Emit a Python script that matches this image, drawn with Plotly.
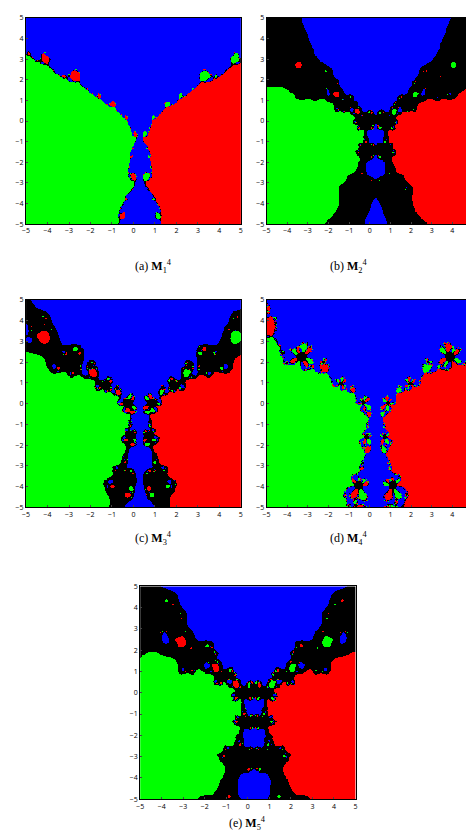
import numpy as np
import plotly.graph_objects as go

# roots of the test polynomial (green, blue, red basins)
roots = [complex(-1.0, -0.4), complex(0.3, 0.95), complex(1.6, -0.4)]
basin_colors = ["#000000", "#00ff00", "#0000ff", "#ff0000"]
captions = ["(a) <b>M</b><sub>1</sub><sup>4</sup>", "(b) <b>M</b><sub>2</sub><sup>4</sup>",
            "(c) <b>M</b><sub>3</sub><sup>4</sup>", "(d) <b>M</b><sub>4</sub><sup>4</sup>",
            "(e) <b>M</b><sub>5</sub><sup>4</sup>"]
method_beta = [0.0, 2.0, 1.0, 0.5, 3.0]
max_iter = [6, 4, 5, 8, 5]
tick_vals = [-5, -4, -3, -2, -1, 0, 1, 2, 3, 4, 5]

N = 240
xs = np.linspace(-5, 5, N)
ys = np.linspace(-5, 5, N)
Z0 = xs[None, :] + 1j * ys[:, None]
r = np.array(roots)

def f(z):
    return (z - r[0]) * (z - r[1]) * (z - r[2])

def df(z):
    return ((z - r[1]) * (z - r[2]) + (z - r[0]) * (z - r[2]) + (z - r[0]) * (z - r[1]))

def basins(beta, iters):
    z = Z0.copy()
    with np.errstate(all="ignore"):
        for _ in range(iters):
            fz = f(z); d = df(z)
            y = z - fz / d
            fy = f(y)
            den = fz + (beta - 2) * fy
            znew = y - fy / d * (fz + beta * fy) / den
            ok = np.isfinite(znew)
            z = np.where(ok, znew, z)
        out = np.zeros(z.shape, dtype=int)
        for k, rt in enumerate(roots):
            out[np.abs(z - rt) < 0.05] = k + 1
    return out

n = len(basin_colors)
cs = []
for i, c in enumerate(basin_colors):
    cs.append([i / n, c]); cs.append([(i + 1) / n, c])

xdom = [[0.030, 0.489], [0.544, 0.985], [0.030, 0.489], [0.544, 0.985], [0.274, 0.734]]
ydom = [[0.746, 0.994], [0.746, 0.994], [0.405, 0.655], [0.405, 0.655], [0.054, 0.310]]
capy = [0.708, 0.708, 0.368, 0.368, 0.012]

fig = go.Figure()
layout = {}
for i in range(5):
    s = "" if i == 0 else str(i + 1)
    fig.add_trace(go.Heatmap(z=basins(method_beta[i], max_iter[i]), x=xs, y=ys,
                             colorscale=cs, zmin=-0.5, zmax=3.5, showscale=False,
                             xaxis="x" + s, yaxis="y" + s, hoverinfo="skip"))
    ax = dict(tickvals=tick_vals, range=[-5, 5], showgrid=False, zeroline=False,
              showline=True, linecolor="black", mirror=True, ticks="inside", ticklen=2,
              tickfont=dict(size=7, color="black"))
    layout["xaxis" + s] = dict(ax, domain=xdom[i], anchor="y" + s)
    layout["yaxis" + s] = dict(ax, domain=ydom[i], anchor="x" + s)
    fig.add_annotation(text=captions[i], x=sum(xdom[i]) / 2, y=capy[i], xref="paper",
                       yref="paper", showarrow=False,
                       font=dict(family="Liberation Serif", size=12, color="black"))

fig.update_layout(width=474, height=840, margin=dict(l=0, r=0, t=0, b=0),
                  paper_bgcolor="white", plot_bgcolor="white", **layout)
fig.write_html("out.html")
